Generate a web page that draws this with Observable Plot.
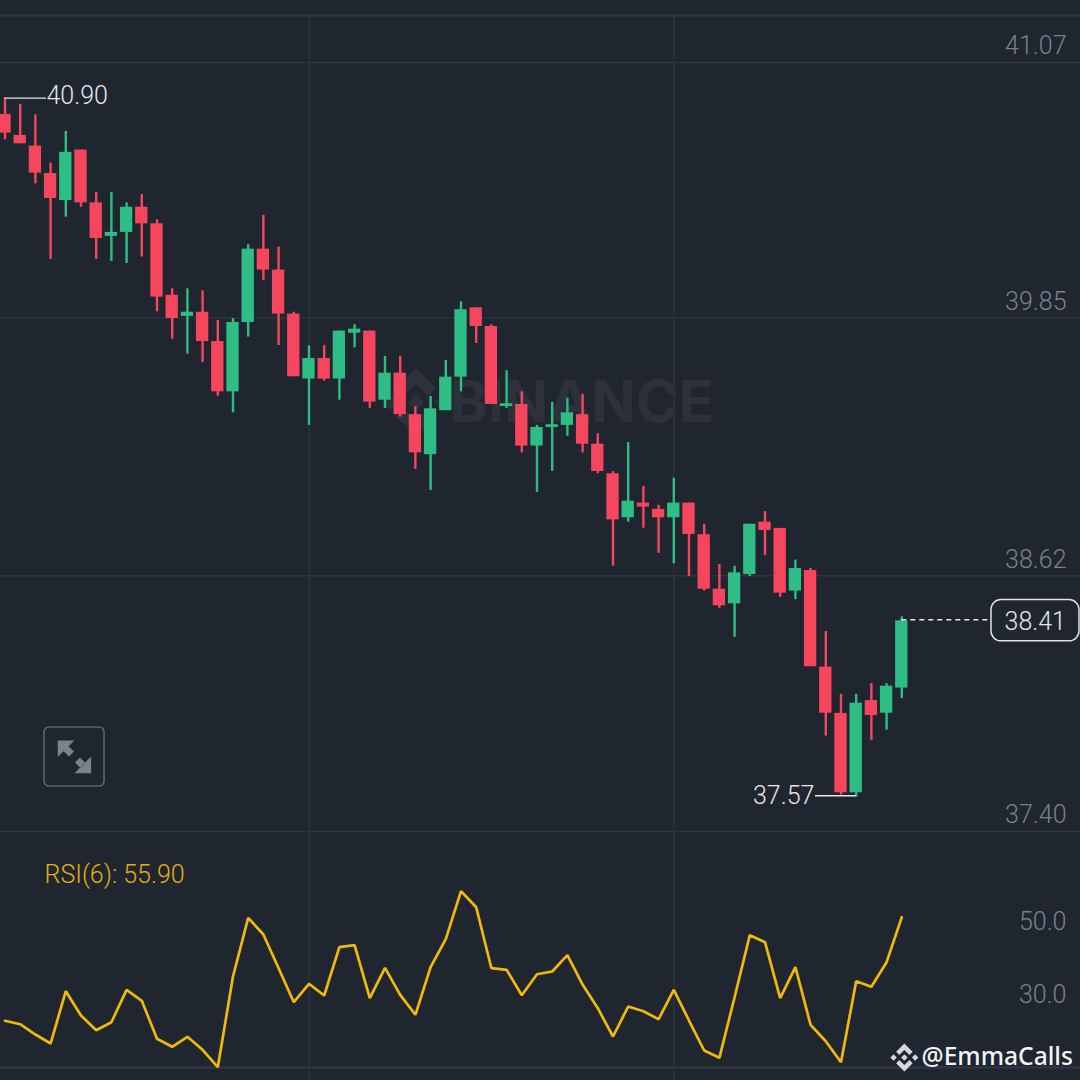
<!DOCTYPE html>
<html>
<head>
<meta charset="utf-8">
<script src="https://cdn.jsdelivr.net/npm/d3@7"></script>
<script src="https://cdn.jsdelivr.net/npm/@observablehq/plot@0.6"></script>
<style>
html,body{margin:0;padding:0;background:#1f2630;width:1080px;height:1080px;overflow:hidden}
svg{display:block}
</style>
</head>
<body>
<div id="chart"></div>
<script>
const opens = [40.822,40.722,40.671,40.540,40.411,40.652,40.400,40.240,40.259,40.379,40.300,39.959,39.858,39.878,39.738,39.498,39.829,40.179,40.079,39.869,
39.559,39.657,39.559,39.778,39.788,39.458,39.587,39.389,39.198,39.408,39.568,39.899,39.810,39.428,39.438,39.239,39.328,39.338,39.389,39.248,
39.107,38.897,38.967,38.937,38.897,38.967,38.816,38.556,38.486,38.626,38.876,38.846,38.547,38.645,38.184,37.963,37.584,38.024,37.964,38.084];
const closes = [40.733,40.682,40.542,40.421,40.641,40.400,40.230,40.259,40.379,40.300,39.950,39.848,39.878,39.738,39.498,39.829,40.179,40.079,39.869,39.570,
39.657,39.559,39.788,39.797,39.449,39.587,39.389,39.207,39.417,39.568,39.890,39.810,39.438,39.441,39.239,39.328,39.341,39.398,39.248,39.118,
38.887,38.976,38.948,38.897,38.967,38.817,38.556,38.477,38.634,38.866,38.836,38.537,38.655,38.186,37.964,37.584,38.012,37.953,38.093,38.405];
const highs = [40.902,40.870,40.820,40.589,40.741,40.652,40.450,40.450,40.400,40.440,40.319,39.990,39.990,39.980,39.839,39.848,40.200,40.340,40.189,39.878,
39.718,39.718,39.788,39.818,39.788,39.667,39.667,39.427,39.476,39.648,39.928,39.899,39.818,39.599,39.498,39.338,39.447,39.468,39.487,39.298,
39.117,39.256,39.046,38.956,39.086,38.967,38.865,38.674,38.665,38.866,38.927,38.846,38.695,38.655,38.354,38.054,38.054,38.105,38.105,38.424];
const lows = [40.701,40.682,40.491,40.130,40.332,40.379,40.130,40.120,40.111,40.141,39.880,39.749,39.678,39.638,39.477,39.398,39.759,40.030,39.719,39.570,
39.338,39.549,39.458,39.708,39.419,39.419,39.377,39.128,39.027,39.408,39.498,39.729,39.438,39.419,39.207,39.018,39.118,39.286,39.207,39.107,
38.666,38.876,38.847,38.727,38.677,38.617,38.547,38.465,38.326,38.617,38.717,38.517,38.506,38.186,37.855,37.573,37.563,37.834,37.883,38.034];
const rsi6 = [27.14,26.19,23.33,20.83,35.36,28.61,24.53,26.75,35.75,32.69,22.14,19.92,22.69,19.08,14.25,39.44,55.75,51.11,41.75,32.31,
37.42,34.17,47.58,48.14,33.42,41.86,34.36,28.81,42.03,49.81,63.14,58.69,41.75,41.31,34.25,40.08,40.83,45.36,37.22,30.64,
22.78,31.11,29.81,27.58,35.75,27.22,18.89,16.86,33.69,50.92,48.97,33.42,42.03,26.03,21.47,15.64,38.14,36.58,43.42,55.90];
const priceTicks = [41.07,39.85,38.62,37.40];
const rsiTicks = [50,30];
const timeGrid = [20,44];
const lastPrice = 38.41, highPrice = 40.90, lowPrice = 37.57;
const rsiLabel = "RSI(6): 55.90";
const handle = "@EmmaCalls";
const watermark = "BINANCE";

const bg="#1f2630", gridC="#2f3541", up="#2ebd85", down="#f6465d", gold="#f0b90b", axisC="#7b818c", labelC="#e4e6ea", markC="#2d313c";
const xDomain=[-0.296,70.757];
const fontFamily="Roboto, sans-serif";
const candles=opens.map((open,i)=>({i,open,close:closes[i],high:highs[i],low:lows[i],color:closes[i]>=open?up:down}));
const rsiRows=rsi6.map((v,i)=>({i,v}));

const poly=(c,k,pts)=>{pts.forEach(([x,y],j)=>j?c.lineTo(x*k,y*k):c.moveTo(x*k,y*k));c.closePath();};
const bnbLogo={draw(c,size){const k=Math.sqrt(size/Math.PI);
  poly(c,k,[[0,-1],[.59,-.41],[.36,-.18],[0,-.54],[-.36,-.18],[-.59,-.41]]);
  poly(c,k,[[0,1],[.59,.41],[.36,.18],[0,.54],[-.36,.18],[-.59,.41]]);
  poly(c,k,[[0,-.23],[.23,0],[0,.23],[-.23,0]]);
  poly(c,k,[[-.77,-.23],[-.54,0],[-.77,.23],[-1,0]]);
  poly(c,k,[[.77,-.23],[1,0],[.77,.23],[.54,0]]);
}};
const expandIcon={draw(c,size){const k=Math.sqrt(size/Math.PI)/17;
  poly(c,k,[[-16.7,-16.5],[0,-16.5],[-16.7,0]]);
  poly(c,k,[[-5.85,-10.75],[-10.85,-5.75],[-5.5,-.5],[-.5,-5.5]]);
  poly(c,k,[[16.7,16.2],[0,16.2],[16.7,-.5]]);
  poly(c,k,[[5.85,10.75],[10.85,5.75],[5.5,.5],[.5,5.5]]);
}};

const base={width:1080,marginTop:0,marginRight:0,marginBottom:0,marginLeft:0,
  style:{background:bg,fontFamily,display:"block"},color:{type:"identity"}};

const pricePlot=Plot.plot({...base,height:832,
  x:{domain:xDomain,axis:null},
  y:{domain:[37.3946,41.3659],axis:null},
  marks:[
    Plot.ruleY(priceTicks,{stroke:gridC,strokeWidth:1.3}),
    Plot.ruleY([41.294],{stroke:gridC,strokeWidth:2.5}),
    Plot.ruleX(timeGrid,{y1:37.3946,y2:41.294,stroke:gridC,strokeWidth:1.3}),
    Plot.dot([{x:27.04,y:39.447}],{x:"x",y:"y",r:34,symbol:bnbLogo,fill:markC,stroke:"none"}),
    Plot.text([watermark],{x:29.24,y:39.442,textAnchor:"start",fontSize:58,fontWeight:700,fontFamily:"Inter, sans-serif",fill:markC}),
    Plot.ruleX(candles,{x:"i",y1:"low",y2:"high",stroke:"color",strokeWidth:2.4}),
    Plot.rect(candles,{x1:d=>d.i-0.405,x2:d=>d.i+0.405,y1:"open",y2:"close",fill:"color"}),
    Plot.axisY(priceTicks,{anchor:"right",tickSize:0,tickPadding:0,dx:-14,dy:-16,textAnchor:"end",fontSize:25,fontWeight:300,fill:axisC,tickFormat:d=>d.toFixed(2),label:null}),
    Plot.ruleY([highPrice],{x1:0,x2:2.73,stroke:labelC,strokeWidth:1.3}),
    Plot.text([highPrice],{x:2.73,y:highPrice,dy:-2,text:d=>d.toFixed(2),textAnchor:"start",fontSize:25,fontWeight:300,fill:labelC}),
    Plot.ruleY([lowPrice],{x1:53.32,x2:56,stroke:labelC,strokeWidth:1.3}),
    Plot.text([lowPrice],{x:53.32,y:lowPrice,dx:-1,text:d=>d.toFixed(2),textAnchor:"end",fontSize:25,fontWeight:300,fill:labelC}),
    Plot.ruleY([lastPrice],{x1:59,x2:64.9,stroke:labelC,strokeWidth:1.5,strokeDasharray:"5,4"}),
    Plot.rect([lastPrice],{x1:64.9,x2:70.69,y1:d=>d-0.103,y2:d=>d+0.094,rx:10,fill:bg,stroke:"#dfe2e6",strokeWidth:1.5}),
    Plot.text([lastPrice],{x:67.78,y:lastPrice,dy:2,text:d=>d.toFixed(2),fontSize:25,fontWeight:300,fill:labelC}),
    Plot.rect([0],{x1:2.6,x2:6.55,y1:37.614,y2:37.896,rx:5,fill:bg,stroke:"#5c636e",strokeWidth:1.6}),
    Plot.dot([{x:4.57,y:37.755}],{x:"x",y:"y",r:17,symbol:expandIcon,fill:"#7b828d",stroke:"none"})
  ]
});

const rsiPlot=Plot.plot({...base,height:248,
  x:{domain:xDomain,axis:null},
  y:{domain:[10.56,79.44],axis:null},
  marks:[
    Plot.ruleY([14.17],{stroke:gridC,strokeWidth:2.5}),
    Plot.ruleX(timeGrid,{stroke:gridC,strokeWidth:1.3}),
    Plot.line(rsiRows,{x:"i",y:"v",stroke:gold,strokeWidth:2.7,strokeLinejoin:"miter"}),
    Plot.axisY(rsiTicks,{anchor:"right",tickSize:0,tickPadding:0,dx:-14,dy:-16,textAnchor:"end",fontSize:25,fontWeight:300,fill:axisC,tickFormat:d=>d.toFixed(1),label:null}),
    Plot.text([rsiLabel],{x:2.6,y:67.5,textAnchor:"start",fontSize:25,fontWeight:300,fill:"#e5ae12"}),
    Plot.dot([{x:59.17,y:16.94}],{x:"x",y:"y",r:14,symbol:bnbLogo,fill:"#d5d7da",stroke:"none"}),
    Plot.text([handle],{x:60.3,y:16.94,textAnchor:"start",fontSize:24.6,fontFamily:"Noto Sans, sans-serif",fontWeight:500,fill:"#f2f3f4"})
  ]
});
const host=document.getElementById("chart");
host.append(pricePlot,rsiPlot);
</script>
</body>
</html>
